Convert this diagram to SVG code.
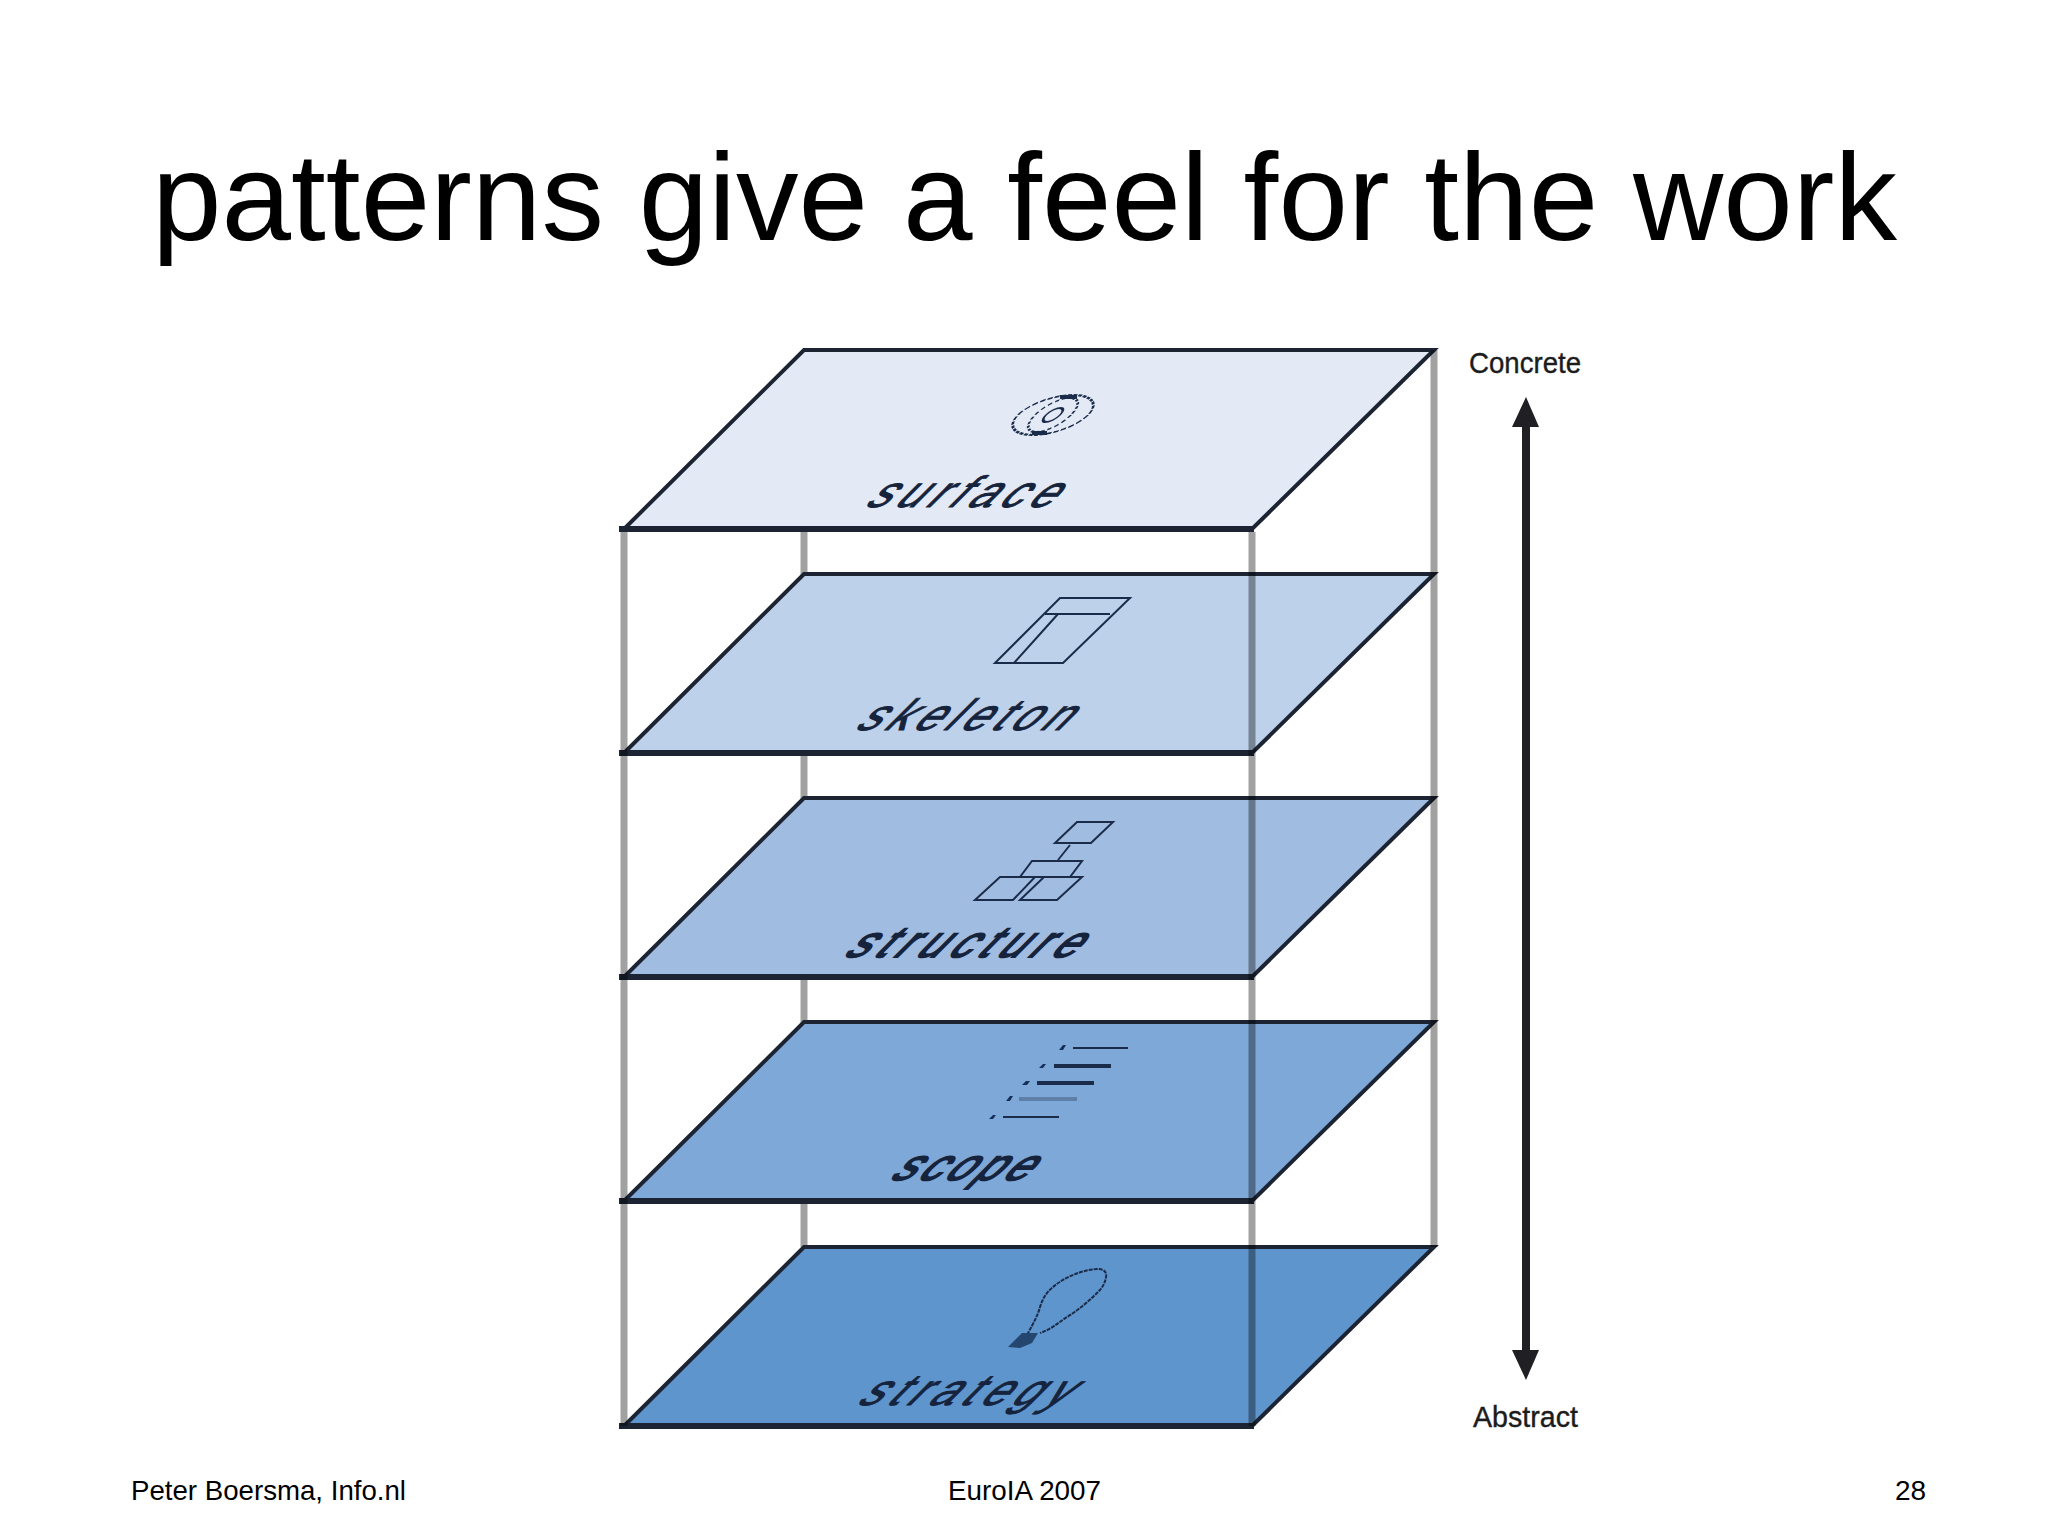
<svg xmlns="http://www.w3.org/2000/svg" width="2048" height="1536" viewBox="0 0 2048 1536">
<style>
text{font-family:"Liberation Sans",Arial,sans-serif}
.title{font-size:125px;fill:#000}
.foot{font-size:28px;fill:#000}
.end{font-size:30px;fill:#1c1c1c;stroke:#1c1c1c;stroke-width:.4}
.label{font-size:44px;fill:#15233c;stroke:#15233c;stroke-width:1}
.plane{stroke:#1c2433;stroke-width:4;stroke-linejoin:miter}
.edge{stroke:#1c2433;stroke-width:6;fill:none}
.ico{fill:none;stroke:#1b2c4a;stroke-width:2}
.post{stroke:#000;stroke-opacity:.37;stroke-width:7;fill:none}
.dot{fill:#14305a}
</style>
<defs>
<polygon id="pl" points="804,0 1434,0 1252,179 624,179"/>
<line id="lip" x1="619" y1="179" x2="1254" y2="179"/>
</defs>
<rect width="2048" height="1536" fill="#fff"/>
<text class="title" x="152" y="240" textLength="1745">patterns give a feel for the work</text>
<g id="posts-back"><line class="post" x1="804" y1="529" x2="804" y2="1247"/></g>
<g id="surface">
<use href="#pl" class="plane" y="350" fill="#e3eaf6"/><use href="#lip" class="edge" y="350"/>
<g transform="translate(1053,415) skewX(-45)"><ellipse class="ico" rx="35" ry="20" stroke-dasharray="4 1.5"/><ellipse class="ico" rx="18" ry="17" stroke-dasharray="3 2"/><ellipse class="ico" rx="7" ry="7"/></g>
<path class="ico" style="stroke-width:4" d="M1060,397H1077M1032,433H1047"/>
<text class="label" transform="translate(863,507) skewX(-45)" textLength="186">surface</text>
</g>
<g id="skeleton">
<use href="#pl" class="plane" y="574" fill="#bdd1ea"/><use href="#lip" class="edge" y="574"/>
<path class="ico" d="M1060,598H1130L1063,663H995ZM1045,614H1110M1058,614L1014,663"/>
<text class="label" transform="translate(853,730) skewX(-45)" textLength="209">skeleton</text>
</g>
<g id="structure">
<use href="#pl" class="plane" y="798" fill="#a0bce0"/><use href="#lip" class="edge" y="798"/>
<path class="ico" d="M1077,822H1113L1091,843H1055ZM1070,845L1058,860M1032,861H1082L1070,877H1020ZM1000,877H1035L1013,900H975ZM1044,877H1082L1057,900H1020Z"/>
<text class="label" style="stroke-width:1.8" transform="translate(842,957) skewX(-45)" textLength="230">structure</text>
</g>
<g id="scope">
<use href="#pl" class="plane" y="1022" fill="#7ea8d7"/><use href="#lip" class="edge" y="1022"/>
<path class="ico" d="M1073,1048H1128"/><path class="ico" style="stroke-width:4" d="M1054,1066H1111M1037,1083H1094"/><path class="ico" style="stroke:#5d7fa8;stroke-width:4" d="M1019,1099H1077"/><path class="ico" d="M1003,1117H1059"/>
<path class="dot" d="M1059,1050l4,-5h3l-3,5zM1039,1068l4,-4h3l-3,4zM1022,1085l4,-4h4l-3,4zM1006,1101l4,-5h3l-3,5zM989,1119l4,-4h3l-3,4z"/>
<text class="label" style="stroke-width:1.8" transform="translate(888,1180) skewX(-45)" textLength="136">scope</text>
</g>
<g id="strategy">
<use href="#pl" class="plane" y="1247" fill="#5f95cd"/><use href="#lip" class="edge" y="1247"/>
<path class="ico" stroke-dasharray="4 1" d="M1027,1335C1034,1322 1038,1315 1040,1307C1043,1297 1048,1291 1053,1287C1062,1279 1080,1270 1097,1269C1104,1269 1107,1272 1106,1277C1105,1283 1103,1287 1098,1292C1090,1300 1080,1309 1067,1317C1058,1323 1050,1330 1040,1333"/>
<path d="M1008,1347L1022,1333L1038,1333L1032,1343L1020,1348Z" fill="#24466f"/>
<text class="label" transform="translate(855,1405) skewX(-45)" textLength="207">strategy</text>
</g>
<g id="posts-front">
<line class="post" x1="624" y1="532" x2="624" y2="1426"/>
<line class="post" x1="1252" y1="532" x2="1252" y2="1426"/>
<line class="post" x1="1434" y1="350" x2="1434" y2="1247"/>
</g>
<g id="connectors">
<line x1="1526" y1="427" x2="1526" y2="1350" stroke="#1f1f24" stroke-width="8"/>
<polygon points="1526,397 1539,427 1512,427" fill="#1f1f24"/>
<polygon points="1526,1380 1539,1350 1512,1350" fill="#1f1f24"/>
</g>
<text id="concrete" class="end" x="1469" y="373" textLength="112" lengthAdjust="spacingAndGlyphs">Concrete</text>
<text id="abstract" class="end" x="1473" y="1427" textLength="105" lengthAdjust="spacingAndGlyphs">Abstract</text>
<g id="footer">
<text class="foot" x="131" y="1500" textLength="275" lengthAdjust="spacingAndGlyphs">Peter Boersma, Info.nl</text>
<text class="foot" x="948" y="1500" textLength="153" lengthAdjust="spacingAndGlyphs">EuroIA 2007</text>
<text class="foot" x="1895" y="1500">28</text>
</g>
</svg>
